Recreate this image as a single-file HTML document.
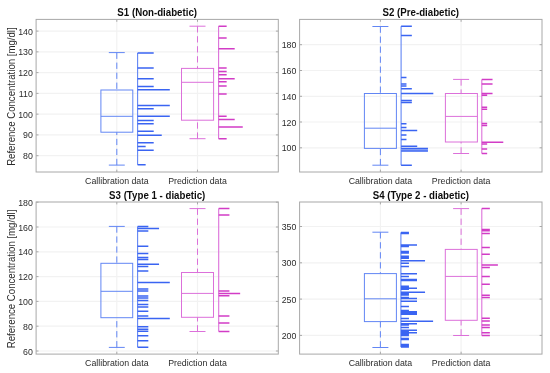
<!DOCTYPE html>
<html><head><meta charset="utf-8"><style>
html,body{margin:0;padding:0;background:#fff;}
svg{display:block;}
</style></head><body>
<svg width="550" height="373" viewBox="0 0 550 373">
<rect width="550" height="373" fill="#fff"/>
<g stroke="#f2f2f2" stroke-width="1.2"><line x1="36.1" y1="31.1" x2="278.3" y2="31.1"/><line x1="36.1" y1="51.85" x2="278.3" y2="51.85"/><line x1="36.1" y1="72.6" x2="278.3" y2="72.6"/><line x1="36.1" y1="93.4" x2="278.3" y2="93.4"/><line x1="36.1" y1="114.15" x2="278.3" y2="114.15"/><line x1="36.1" y1="134.9" x2="278.3" y2="134.9"/><line x1="36.1" y1="155.7" x2="278.3" y2="155.7"/><line x1="116.8" y1="19.4" x2="116.8" y2="172"/><line x1="197.5" y1="19.4" x2="197.5" y2="172"/></g>
<g stroke="#f2f2f2" stroke-width="1.2"><line x1="299.6" y1="44.7" x2="542" y2="44.7"/><line x1="299.6" y1="70.5" x2="542" y2="70.5"/><line x1="299.6" y1="96.3" x2="542" y2="96.3"/><line x1="299.6" y1="122" x2="542" y2="122"/><line x1="299.6" y1="147.8" x2="542" y2="147.8"/><line x1="380.4" y1="19.4" x2="380.4" y2="172"/><line x1="461.1" y1="19.4" x2="461.1" y2="172"/></g>
<g stroke="#f2f2f2" stroke-width="1.2"><line x1="36.1" y1="227" x2="278.3" y2="227"/><line x1="36.1" y1="251.8" x2="278.3" y2="251.8"/><line x1="36.1" y1="276.6" x2="278.3" y2="276.6"/><line x1="36.1" y1="301.4" x2="278.3" y2="301.4"/><line x1="36.1" y1="326.2" x2="278.3" y2="326.2"/><line x1="36.1" y1="351" x2="278.3" y2="351"/><line x1="116.8" y1="202" x2="116.8" y2="354.1"/><line x1="197.5" y1="202" x2="197.5" y2="354.1"/></g>
<g stroke="#f2f2f2" stroke-width="1.2"><line x1="299.6" y1="226.5" x2="542" y2="226.5"/><line x1="299.6" y1="262.8" x2="542" y2="262.8"/><line x1="299.6" y1="299.1" x2="542" y2="299.1"/><line x1="299.6" y1="335.4" x2="542" y2="335.4"/><line x1="380.4" y1="202" x2="380.4" y2="354.1"/><line x1="461.1" y1="202" x2="461.1" y2="354.1"/></g>
<g stroke="#6286f4" stroke-width="1"><path d="M116.8 52.6V90M116.8 165.1V132.2" stroke-dasharray="6.3 3.7" fill="none"/><path d="M108.82 52.6H124.78M108.82 165.1H124.78" fill="none"/><rect x="100.9" y="90" width="31.9" height="42.2" fill="none"/><path d="M100.9 116.3H132.8" fill="none"/></g>
<path d="M137.6 53V164.7" stroke="#6286f4" stroke-width="1.1" fill="none"/><path d="M137.6 53h16.1M137.6 68.1h16.1M137.6 78.8h16.1M137.6 86.4h16.1M137.6 89.7h32.2M137.6 105.4h32.2M137.6 108.7h16.1M137.6 116.2h32.2M137.6 120.4h16.1M137.6 123.7h16.1M137.6 131.2h16.1M137.6 135.3h24.15M137.6 142.8h16.1M137.6 146.4h8.05M137.6 150.3h16.1M137.6 164.7h8.05" stroke="#3a64f2" stroke-width="1.5" fill="none"/>
<g stroke="#dc70da" stroke-width="1"><path d="M197.5 26.2V68.4M197.5 138.7V120.2" stroke-dasharray="6.3 3.7" fill="none"/><path d="M189.47 26.2H205.53M189.47 138.7H205.53" fill="none"/><rect x="181.5" y="68.4" width="32.1" height="51.8" fill="none"/><path d="M181.5 82.3H213.6" fill="none"/></g>
<path d="M218.6 26.2V138.7" stroke="#dc70da" stroke-width="1.1" fill="none"/><path d="M218.6 26.2h8.05M218.6 37.9h8.05M218.6 48.8h16.1M218.6 68h8.05M218.6 71.4h8.05M218.6 74.7h8.05M218.6 78.8h16.1M218.6 81.8h8.05M218.6 86.1h8.05M218.6 93.9h8.05M218.6 116.2h8.05M218.6 119.6h16.1M218.6 127.1h24.15M218.6 138.7h8.05" stroke="#d23cc6" stroke-width="1.5" fill="none"/>
<g stroke="#6286f4" stroke-width="1"><path d="M380.4 26.5V93.5M380.4 165.2V148.4" stroke-dasharray="6.3 3.7" fill="none"/><path d="M372.4 26.5H388.4M372.4 165.2H388.4" fill="none"/><rect x="364.4" y="93.5" width="32" height="54.9" fill="none"/><path d="M364.4 128.2H396.4" fill="none"/></g>
<path d="M401.1 26.3V165.3" stroke="#6286f4" stroke-width="1.1" fill="none"/><path d="M401.1 149.85h26.85" stroke="#8ea8f6" stroke-width="1.5" fill="none"/><path d="M401.1 26.3h10.74M401.1 35.4h10.74M401.1 77.4h5.37M401.1 84.1h5.37M401.1 86.1h5.37M401.1 88.8h10.74M401.1 93.5h32.22M401.1 100.4h10.74M401.1 102.4h10.74M401.1 123.7h5.37M401.1 127.4h5.37M401.1 130.4h16.11M401.1 134.9h5.37M401.1 139.4h5.37M401.1 146.3h16.11M401.1 148.6h26.85M401.1 151.1h26.85M401.1 165.3h10.74" stroke="#3a64f2" stroke-width="1.5" fill="none"/>
<g stroke="#dc70da" stroke-width="1"><path d="M461.1 79.4V93.5M461.1 153.5V142" stroke-dasharray="6.3 3.7" fill="none"/><path d="M453.1 79.4H469.1M453.1 153.5H469.1" fill="none"/><rect x="445.4" y="93.5" width="32" height="48.5" fill="none"/><path d="M445.4 116.4H477.4" fill="none"/></g>
<path d="M481.8 79.4V153.6" stroke="#dc70da" stroke-width="1.1" fill="none"/><path d="M481.8 79.4h10.74M481.8 84.1h10.74M481.8 93.5h10.74M481.8 95.2h5.37M481.8 107.3h5.37M481.8 109.3h5.37M481.8 123.4h5.37M481.8 125.4h5.37M481.8 142.3h21.48M481.8 144.1h5.37M481.8 148.9h5.37M481.8 153.6h5.37" stroke="#d23cc6" stroke-width="1.5" fill="none"/>
<g stroke="#6286f4" stroke-width="1"><path d="M116.8 226.4V263.3M116.8 347.4V317.7" stroke-dasharray="6.3 3.7" fill="none"/><path d="M108.85 226.4H124.75M108.85 347.4H124.75" fill="none"/><rect x="100.9" y="263.3" width="31.8" height="54.4" fill="none"/><path d="M100.9 291.3H132.7" fill="none"/></g>
<path d="M137.6 226.4V347.2" stroke="#6286f4" stroke-width="1.1" fill="none"/><path d="M137.6 226.4h10.73M137.6 228.4h21.46M137.6 230.9h10.73M137.6 246.3h10.73M137.6 253.5h10.73M137.6 257.6h10.73M137.6 259.6h10.73M137.6 264.2h21.46M137.6 266.6h10.73M137.6 271.1h10.73M137.6 282.5h32.19M137.6 289.1h10.73M137.6 290.9h10.73M137.6 295.9h10.73M137.6 298.1h10.73M137.6 300.5h10.73M137.6 304.5h10.73M137.6 307h10.73M137.6 311.3h10.73M137.6 315.9h10.73M137.6 318.4h32.19M137.6 326.8h10.73M137.6 329.3h10.73M137.6 331.3h10.73M137.6 335.7h10.73M137.6 340.7h10.73M137.6 347.2h10.73" stroke="#3a64f2" stroke-width="1.5" fill="none"/>
<g stroke="#dc70da" stroke-width="1"><path d="M197.5 208.6V272.5M197.5 331.5V317.3" stroke-dasharray="6.3 3.7" fill="none"/><path d="M189.5 208.6H205.5M189.5 331.5H205.5" fill="none"/><rect x="181.5" y="272.5" width="32" height="44.8" fill="none"/><path d="M181.5 293.4H213.5" fill="none"/></g>
<path d="M218.7 208.6V331.5" stroke="#dc70da" stroke-width="1.1" fill="none"/><path d="M218.7 208.6h10.73M218.7 215h10.73M218.7 290.9h10.73M218.7 293.4h21.46M218.7 295.8h10.73M218.7 315.9h10.73M218.7 322.9h10.73M218.7 331.5h10.73" stroke="#d23cc6" stroke-width="1.5" fill="none"/>
<g stroke="#6286f4" stroke-width="1"><path d="M380.4 232.2V273.6M380.4 347.5V321.6" stroke-dasharray="6.3 3.7" fill="none"/><path d="M372.4 232.2H388.4M372.4 347.5H388.4" fill="none"/><rect x="364.4" y="273.6" width="32" height="48" fill="none"/><path d="M364.4 298.8H396.4" fill="none"/></g>
<path d="M400.9 232.4V346.9" stroke="#6286f4" stroke-width="1.1" fill="none"/><path d="M400.9 232.4h8.05M400.9 233.4h8.05M400.9 245.1h16.1M400.9 246.4h8.05M400.9 251.6h8.05M400.9 253h8.05M400.9 256.2h8.05M400.9 257.3h8.05M400.9 258.3h8.05M400.9 260.7h24.15M400.9 263.3h8.05M400.9 266.4h8.05M400.9 273.8h16.1M400.9 276.4h8.05M400.9 279.5h16.1M400.9 280.6h16.1M400.9 286.3h8.05M400.9 287.4h8.05M400.9 288.3h16.1M400.9 289.3h8.05M400.9 292.3h24.15M400.9 293.6h8.05M400.9 294.9h8.05M400.9 297.5h8.05M400.9 298.6h16.1M400.9 301.3h16.1M400.9 306.6h8.05M400.9 310.4h8.05M400.9 311.8h16.1M400.9 313h16.1M400.9 314.3h16.1M400.9 318.4h8.05M400.9 321.3h32.2M400.9 323.8h16.1M400.9 324.9h8.05M400.9 327.5h8.05M400.9 330.2h16.1M400.9 331.3h8.05M400.9 332.7h16.1M400.9 334h8.05M400.9 335.5h8.05M400.9 338.4h8.05M400.9 339.4h8.05M400.9 344.5h8.05M400.9 345.7h8.05M400.9 346.9h8.05" stroke="#3a64f2" stroke-width="1.5" fill="none"/>
<g stroke="#dc70da" stroke-width="1"><path d="M461.1 208.6V249.4M461.1 335.5V320.3" stroke-dasharray="6.3 3.7" fill="none"/><path d="M453.12 208.6H469.08M453.12 335.5H469.08" fill="none"/><rect x="445.3" y="249.4" width="31.9" height="70.9" fill="none"/><path d="M445.3 276.4H477.2" fill="none"/></g>
<path d="M481.8 208.6V335.5" stroke="#dc70da" stroke-width="1.1" fill="none"/><path d="M481.8 208.6h8.05M481.8 229.6h8.05M481.8 230.8h8.05M481.8 233.5h8.05M481.8 247.5h8.05M481.8 254.3h8.05M481.8 264.9h16.1M481.8 267.6h8.05M481.8 276.4h8.05M481.8 284.3h8.05M481.8 295.3h8.05M481.8 297.4h8.05M481.8 318.3h8.05M481.8 321h8.05M481.8 325h8.05M481.8 327.5h8.05M481.8 332.8h8.05M481.8 335.5h8.05" stroke="#d23cc6" stroke-width="1.5" fill="none"/>
<g stroke="#a8a8a8" stroke-width="1"><rect x="36.1" y="19.4" width="242.2" height="152.6" fill="none"/><path d="M36.1 31.1h2.4M278.3 31.1h-2.4M36.1 51.85h2.4M278.3 51.85h-2.4M36.1 72.6h2.4M278.3 72.6h-2.4M36.1 93.4h2.4M278.3 93.4h-2.4M36.1 114.15h2.4M278.3 114.15h-2.4M36.1 134.9h2.4M278.3 134.9h-2.4M36.1 155.7h2.4M278.3 155.7h-2.4M116.8 172v-2.4M116.8 19.4v2.4M197.5 172v-2.4M197.5 19.4v2.4" fill="none"/></g>
<g stroke="#a8a8a8" stroke-width="1"><rect x="299.6" y="19.4" width="242.4" height="152.6" fill="none"/><path d="M299.6 44.7h2.4M542 44.7h-2.4M299.6 70.5h2.4M542 70.5h-2.4M299.6 96.3h2.4M542 96.3h-2.4M299.6 122h2.4M542 122h-2.4M299.6 147.8h2.4M542 147.8h-2.4M380.4 172v-2.4M380.4 19.4v2.4M461.1 172v-2.4M461.1 19.4v2.4" fill="none"/></g>
<g stroke="#a8a8a8" stroke-width="1"><rect x="36.1" y="202" width="242.2" height="152.1" fill="none"/><path d="M36.1 202.2h2.4M278.3 202.2h-2.4M36.1 227h2.4M278.3 227h-2.4M36.1 251.8h2.4M278.3 251.8h-2.4M36.1 276.6h2.4M278.3 276.6h-2.4M36.1 301.4h2.4M278.3 301.4h-2.4M36.1 326.2h2.4M278.3 326.2h-2.4M36.1 351h2.4M278.3 351h-2.4M116.8 354.1v-2.4M116.8 202v2.4M197.5 354.1v-2.4M197.5 202v2.4" fill="none"/></g>
<g stroke="#a8a8a8" stroke-width="1"><rect x="299.6" y="202" width="242.4" height="152.1" fill="none"/><path d="M299.6 226.5h2.4M542 226.5h-2.4M299.6 262.8h2.4M542 262.8h-2.4M299.6 299.1h2.4M542 299.1h-2.4M299.6 335.4h2.4M542 335.4h-2.4M380.4 354.1v-2.4M380.4 202v2.4M461.1 354.1v-2.4M461.1 202v2.4" fill="none"/></g>
<g font-family="Liberation Sans, Arial, sans-serif" font-size="9.3" fill="#2b2b2b"><text transform="translate(32.9 34.6) scale(0.9462 1)" text-anchor="end">140</text><text transform="translate(32.9 55.35) scale(0.9462 1)" text-anchor="end">130</text><text transform="translate(32.9 76.1) scale(0.9462 1)" text-anchor="end">120</text><text transform="translate(32.9 96.9) scale(0.9462 1)" text-anchor="end">110</text><text transform="translate(32.9 117.65) scale(0.9462 1)" text-anchor="end">100</text><text transform="translate(32.9 138.4) scale(0.9462 1)" text-anchor="end">90</text><text transform="translate(32.9 159.2) scale(0.9462 1)" text-anchor="end">80</text><text transform="translate(116.8 183.6) scale(0.9462 1)" text-anchor="middle">Callibration data</text><text transform="translate(197.5 183.6) scale(0.9462 1)" text-anchor="middle">Prediction data</text><text transform="translate(296.4 48.2) scale(0.9462 1)" text-anchor="end">180</text><text transform="translate(296.4 74) scale(0.9462 1)" text-anchor="end">160</text><text transform="translate(296.4 99.8) scale(0.9462 1)" text-anchor="end">140</text><text transform="translate(296.4 125.5) scale(0.9462 1)" text-anchor="end">120</text><text transform="translate(296.4 151.3) scale(0.9462 1)" text-anchor="end">100</text><text transform="translate(380.4 183.6) scale(0.9462 1)" text-anchor="middle">Callibration data</text><text transform="translate(461.1 183.6) scale(0.9462 1)" text-anchor="middle">Prediction data</text><text transform="translate(32.9 205.7) scale(0.9462 1)" text-anchor="end">180</text><text transform="translate(32.9 230.5) scale(0.9462 1)" text-anchor="end">160</text><text transform="translate(32.9 255.3) scale(0.9462 1)" text-anchor="end">140</text><text transform="translate(32.9 280.1) scale(0.9462 1)" text-anchor="end">120</text><text transform="translate(32.9 304.9) scale(0.9462 1)" text-anchor="end">100</text><text transform="translate(32.9 329.7) scale(0.9462 1)" text-anchor="end">80</text><text transform="translate(32.9 354.5) scale(0.9462 1)" text-anchor="end">60</text><text transform="translate(116.8 365.7) scale(0.9462 1)" text-anchor="middle">Callibration data</text><text transform="translate(197.5 365.7) scale(0.9462 1)" text-anchor="middle">Prediction data</text><text transform="translate(296.4 230) scale(0.9462 1)" text-anchor="end">350</text><text transform="translate(296.4 266.3) scale(0.9462 1)" text-anchor="end">300</text><text transform="translate(296.4 302.6) scale(0.9462 1)" text-anchor="end">250</text><text transform="translate(296.4 338.9) scale(0.9462 1)" text-anchor="end">200</text><text transform="translate(380.4 365.7) scale(0.9462 1)" text-anchor="middle">Callibration data</text><text transform="translate(461.1 365.7) scale(0.9462 1)" text-anchor="middle">Prediction data</text></g>
<g font-family="Liberation Sans, Arial, sans-serif" font-size="10" font-weight="bold" fill="#0d0d0d"><text transform="translate(157.2 16.2) scale(0.97 1)" text-anchor="middle">S1 (Non-diabetic)</text><text transform="translate(420.8 16.2) scale(0.97 1)" text-anchor="middle">S2 (Pre-diabetic)</text><text transform="translate(157.2 198.8) scale(0.97 1)" text-anchor="middle">S3 (Type 1 - diabetic)</text><text transform="translate(420.8 198.8) scale(0.97 1)" text-anchor="middle">S4 (Type 2 - diabetic)</text></g>
<g font-family="Liberation Sans, Arial, sans-serif" font-size="10.2" fill="#2b2b2b"><text transform="translate(14.8 96.6) rotate(-90) scale(0.945 1)" text-anchor="middle">Reference Concentration [mg/dl]</text><text transform="translate(14.8 278.95) rotate(-90) scale(0.945 1)" text-anchor="middle">Reference Concentration [mg/dl]</text></g>
</svg>
</body></html>
